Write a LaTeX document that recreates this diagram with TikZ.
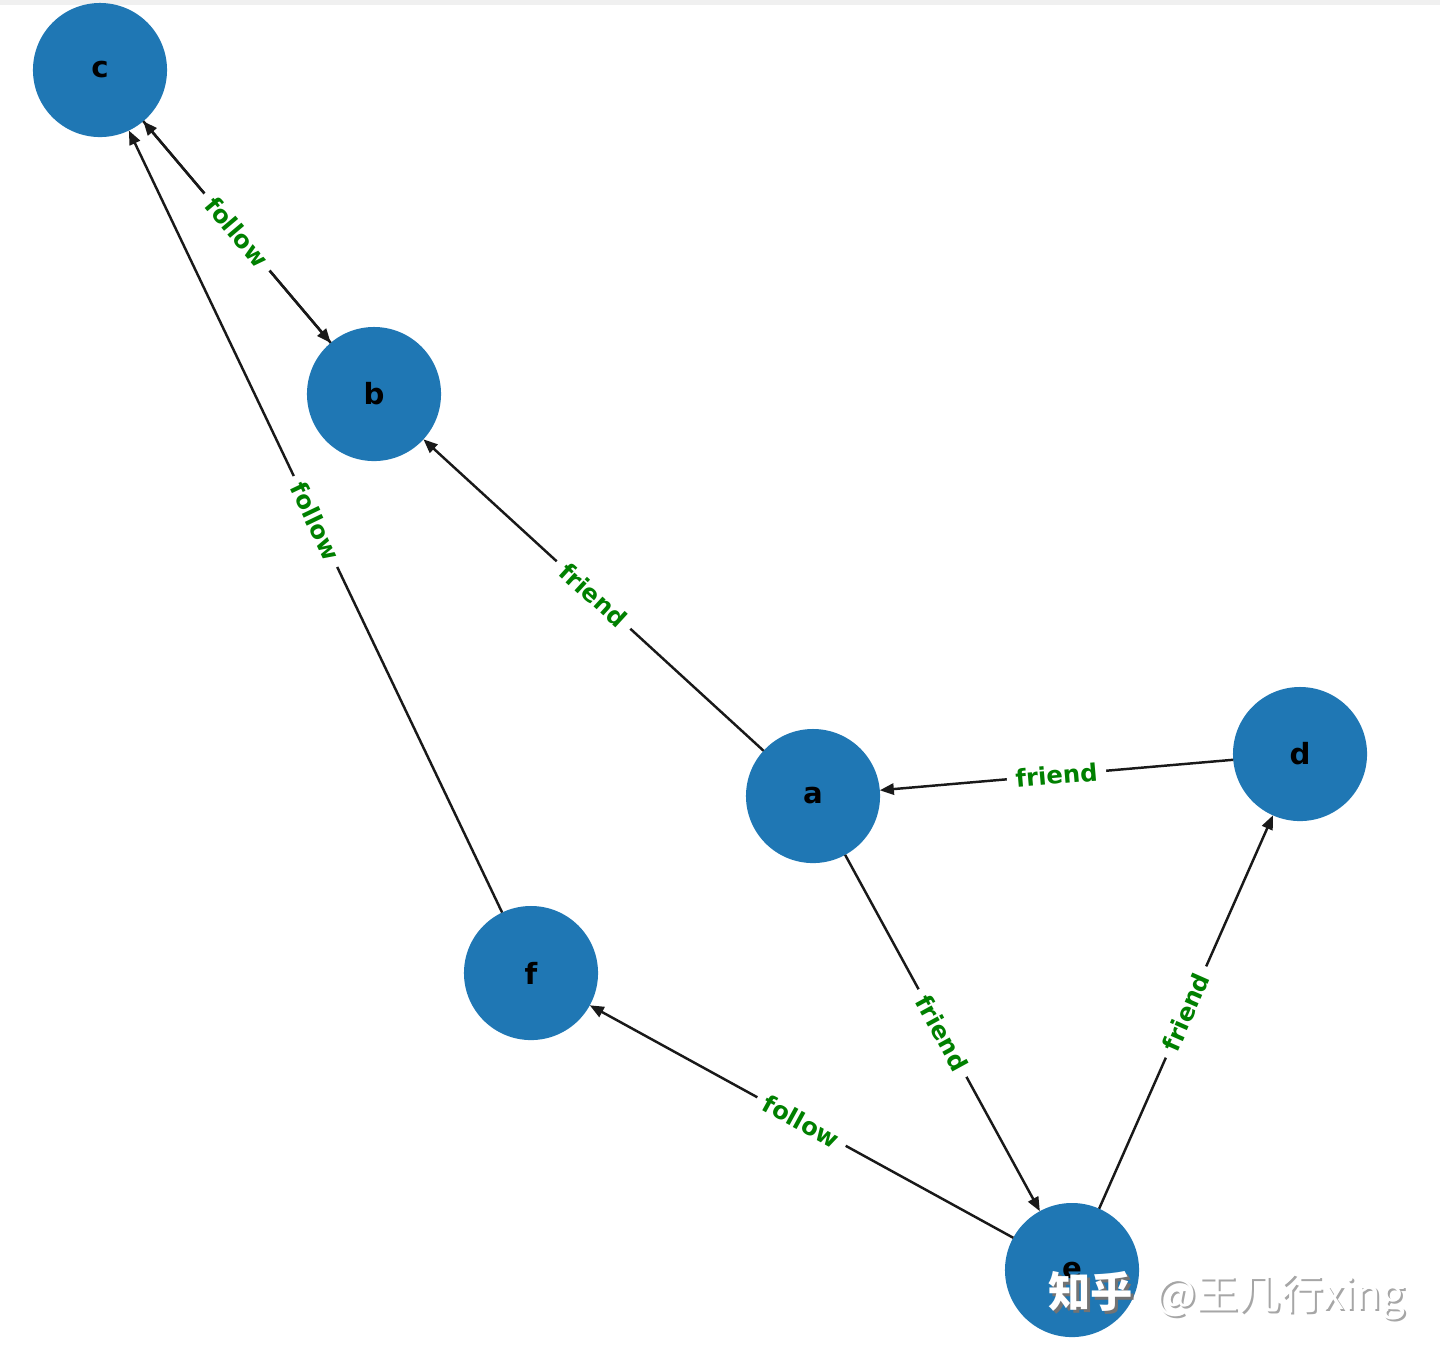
\documentclass[tikz,border=0pt]{standalone}
\usepackage{fontspec}
\setmainfont{DejaVu Sans}
\newfontfamily\cjk{Noto Sans CJK SC}
\usetikzlibrary{arrows.meta}
\definecolor{nodeblue}{HTML}{1F77B4}
\definecolor{relgreen}{HTML}{008000}

\begin{document}
\begin{tikzpicture}[x=0.01cm, y=-0.01cm,
  vertex/.style={circle, fill=nodeblue, minimum size=1.34cm, inner sep=0pt, outer sep=0pt,
    font=\fontsize{8.3}{10}\selectfont\bfseries},
  edge/.style={-{Triangle[length=4pt,width=3.2pt]}, line width=0.7pt, black!90},
  rel/.style={sloped, fill=white, inner sep=2.5pt, text=relgreen,
    font=\fontsize{6.9}{8}\selectfont\bfseries},
  wmark/.style={inner sep=0pt, anchor=base west, font=\cjk\fontsize{12}{13}\selectfont}]
\useasboundingbox (0,0) rectangle (1440,1359);
\fill[black!6] (0,0) rectangle (1440,5);
% nodes
\node[vertex] (c) at (100,70) {c};
\node[vertex] (b) at (374,394) {b};
\node[vertex] (a) at (813,796) {a};
\node[vertex] (d) at (1300,754) {d};
\node[vertex] (f) at (531,973) {f};
\node[vertex] (e) at (1072,1270) {e};
% edges
\draw[edge] (b) -- (c);
\draw[edge] (c) -- node[rel]{follow} (b);
\draw[edge] (f) -- node[rel]{follow} (c);
\draw[edge] (a) -- node[rel]{friend} (b);
\draw[edge] (d) -- node[rel]{friend} (a);
\draw[edge] (a) -- node[rel]{friend} (e);
\draw[edge] (e) -- node[rel]{friend} (d);
\draw[edge] (e) -- node[rel]{follow} (f);
% watermark
\node[wmark, text=black!55, font=\cjk\fontsize{12}{13}\selectfont\bfseries] (zhihu shadow) at (1051,1310) {知乎};
\node[wmark, text=white, font=\cjk\fontsize{12}{13}\selectfont\bfseries] (zhihu) at (1048,1307) {知乎};
\node[wmark, text=black!35] (user shadow) at (1158,1311) {@王几行xing};
\node[wmark, text=white] (user) at (1156,1309) {@王几行xing};
\end{tikzpicture}
\end{document}
